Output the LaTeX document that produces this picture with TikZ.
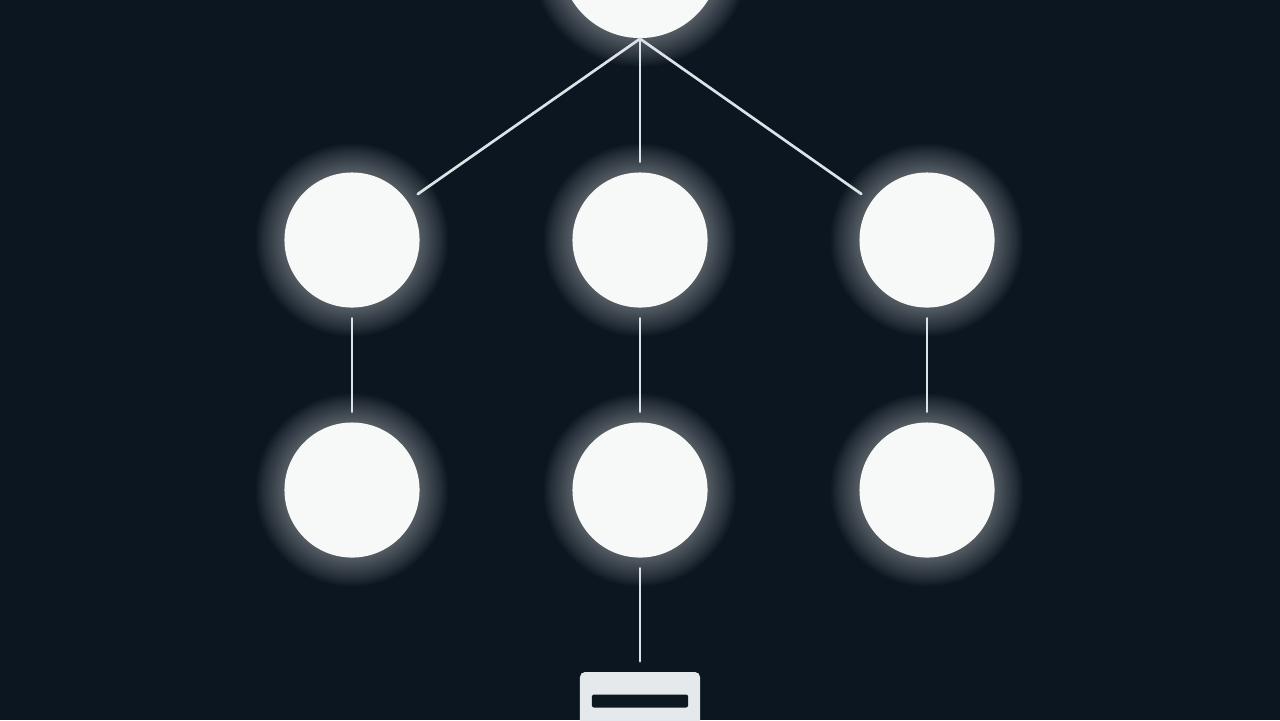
\documentclass[tikz,border=0pt]{standalone}
\begin{document}
\begin{tikzpicture}[x=0.01cm,y=-0.01cm]
\definecolor{bg}{HTML}{0B1620}
\definecolor{nodefill}{HTML}{F7F8F8}
\definecolor{linec}{HTML}{DDE2E6}
\definecolor{cardc}{HTML}{E6E9EB}
\definecolor{barc}{HTML}{0D1720}
\tikzset{
  circ/.style={circle,fill=nodefill,draw=none,minimum size=1.35cm,inner sep=0pt},
  topcirc/.style={circle,fill=nodefill,draw=none,minimum size=1.6cm,inner sep=0pt},
  link/.style={draw=linec,line width=0.027cm,line cap=round},
  card/.style={rectangle,rounded corners=0.05cm,fill=cardc,draw=none,minimum width=1.2cm,minimum height=0.6cm,inner sep=0pt},
  bar/.style={rectangle,rounded corners=0.02cm,fill=barc,draw=none,minimum width=0.96cm,minimum height=0.13cm,inner sep=0pt}
}
\fill[bg] (0,0) rectangle (1280,720);
\useasboundingbox (0,0) rectangle (1280,720);
\clip (0,0) rectangle (1280,720);
% glows
\foreach \x/\y/\r in {640/-42/80,352/240/67.5,640/240/67.5,927/240/67.5,352/490/67.5,640/490/67.5,927/490/67.5}{
  \foreach \i in {1,...,16}{
    \fill[white,fill opacity=0.022] (\x,\y) circle[radius={(\r+1.8*\i)*0.01cm}];
  }
}
\node[topcirc] (t) at (640,-42) {};
\node[circ] (a) at (352,240) {};
\node[circ] (b) at (640,240) {};
\node[circ] (c) at (927,240) {};
\node[circ] (d) at (352,490) {};
\node[circ] (e) at (640,490) {};
\node[circ] (f) at (927,490) {};
\node[card] (g) at (640,702) {};
\node[bar] (h) at (640,701) {};
\draw[link,shorten >=0.12cm] (t.south) -- (a);
\draw[link,shorten >=0.1cm] (t.south) -- (b);
\draw[link,shorten >=0.12cm] (t.south) -- (c);
\draw[link,shorten >=0.1cm,shorten <=0.1cm] (a) -- (d);
\draw[link,shorten >=0.1cm,shorten <=0.1cm] (b) -- (e);
\draw[link,shorten >=0.1cm,shorten <=0.1cm] (c) -- (f);
\draw[link,shorten >=0.1cm,shorten <=0.1cm] (e) -- (g);
\end{tikzpicture}
\end{document}
